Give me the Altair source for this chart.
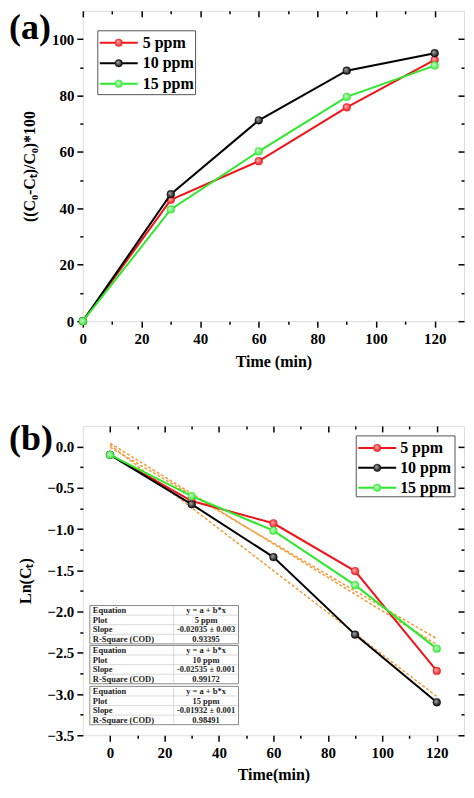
import altair as alt
import pandas as pd

FONT = "Liberation Serif"

# ---------------- data ----------------
times = [0, 30, 60, 90, 120]
series = ["5 ppm", "10 ppm", "15 ppm"]
colors = ["#EE1419", "#000000", "#2EE82E"]
lights = ["#FFB5B5", "#B0B0B0", "#D8FFD8"]

removal_5 = [0, 43.0, 56.7, 75.8, 92.6]
removal_10 = [0, 45.0, 71.2, 88.8, 95.0]
removal_15 = [0, 39.6, 60.2, 79.5, 90.6]

lnc_5 = [-0.10, -0.66, -0.93, -1.51, -2.72]
lnc_10 = [-0.10, -0.70, -1.34, -2.28, -3.10]
lnc_15 = [-0.10, -0.60, -1.02, -1.68, -2.45]

fit_t = [0, 120]
fit_5 = [0.04, -2.40]
fit_10 = [0.02, -3.03]
fit_15 = [-0.01, -2.33]

table_rows = ["Equation", "Plot", "Slope", "R-Square (COD)"]
table_eq = "y = a + b*x"
table_slope = ["-0.02035 ± 0.003", "-0.02535 ± 0.001", "-0.01932 ± 0.001"]
table_r2 = ["0.93395", "0.99172", "0.98491"]

top_x_major = [0, 20, 40, 60, 80, 100, 120]
top_x_minor = [10, 30, 50, 70, 90, 110]
top_y_major = [0, 20, 40, 60, 80, 100]
top_y_minor = [10, 30, 50, 70, 90]
bot_x_major = [0, 20, 40, 60, 80, 100, 120]
bot_x_minor = [10, 30, 50, 70, 90, 110]
bot_y_major = [-3.5, -3.0, -2.5, -2.0, -1.5, -1.0, -0.5, 0.0]
bot_y_minor = [-3.25, -2.75, -2.25, -1.75, -1.25, -0.75, -0.25]

# ------------- frames -------------
def long_df(vals):
    rows = []
    for s, v in zip(series, vals):
        for t, y in zip(times, v):
            rows.append({"t": t, "v": y, "series": s})
    return pd.DataFrame(rows)

df_top = long_df([removal_5, removal_10, removal_15])
df_bot = long_df([lnc_5, lnc_10, lnc_15])
fit_rows = []
for s, f in zip(series, [fit_5, fit_10, fit_15]):
    for t, y in zip(fit_t, f):
        fit_rows.append({"t": t, "v": y, "series": s})
df_fit = pd.DataFrame(fit_rows)
dummy = pd.DataFrame({"a": [0]})


def ball(c, light):
    return alt.RadialGradient(
        gradient="radial",
        stops=[alt.GradientStop(offset=0, color=light), alt.GradientStop(offset=1, color=c)],
        x1=0.35, y1=0.35, r1=0, x2=0.5, y2=0.5, r2=0.55,
    )


def axis_main(orient, values, title, fmt, lab_pad, title_pad):
    return alt.Axis(
        orient=orient, values=values, format=fmt, tickSize=6, tickWidth=1.5, tickColor="black",
        domain=False, grid=False, labelFont=FONT, labelFontWeight="bold", labelFontSize=15,
        labelColor="black", labelPadding=lab_pad, labelFlush=False, labelOverlap=False,
        title=title, titleFont=FONT, titleFontWeight="bold", titleFontSize=16, titleColor="black",
        titlePadding=title_pad,
    )


def axis_plain(orient, values, size, offset=0):
    return alt.Axis(
        orient=orient, values=values, tickSize=size, tickWidth=1.5, tickColor="black",
        domain=False, grid=False, labels=False, title=None, offset=offset,
    )


def panel(df, xs, ys, W, H, xmaj, xmin, ymaj, ymin, yfmt, xtitle, ytitle, ytp, xtp,
          tag, legend_pos, fits=None, tables=None):
    layers = []
    enc_x = lambda ax: alt.X("t:Q", scale=xs, axis=ax)
    enc_y = lambda ax: alt.Y("v:Q", scale=ys, axis=ax)
    base = alt.Chart(df)
    # axis holders
    layers.append(base.mark_point(opacity=0).encode(
        x=enc_x(axis_main("bottom", xmaj, xtitle, "d", 4, xtp)),
        y=enc_y(axis_main("left", ymaj, ytitle, yfmt, 3, ytp))))
    layers.append(base.mark_point(opacity=0).encode(
        x=enc_x(axis_plain("bottom", xmin, 3)), y=enc_y(axis_plain("left", ymin, 3))))
    layers.append(base.mark_point(opacity=0).encode(
        x=enc_x(axis_plain("bottom", xmaj, 6, -H)), y=enc_y(axis_plain("left", ymaj, 6, -W))))
    layers.append(base.mark_point(opacity=0).encode(
        x=enc_x(axis_plain("bottom", xmin, 3, -H)), y=enc_y(axis_plain("left", ymin, 3, -W))))
    # fits
    if fits is not None:
        layers.append(alt.Chart(fits).mark_line(color="#F29B38", strokeWidth=1.5, strokeDash=[3, 2]).encode(
            x=enc_x(None), y=enc_y(None), detail="series:N"))
    # series
    for s, c, l in zip(series, colors, lights):
        sub = base.transform_filter(alt.datum.series == s)
        layers.append(sub.mark_line(color=c, strokeWidth=2).encode(x=enc_x(None), y=enc_y(None)))
        layers.append(sub.mark_point(filled=True, size=60, fill=ball(c, l), stroke=c, strokeWidth=0.5,
                                     opacity=1).encode(x=enc_x(None), y=enc_y(None)))
    # legend
    bx0, bx1, by0, by1, lx0, lx1, tx, ly0, dy = legend_pos
    d = alt.Chart(dummy)
    layers.append(d.mark_rect(fill="white", stroke="#555555", strokeWidth=1).encode(
        x=alt.value(bx0), x2=alt.value(bx1), y=alt.value(by0), y2=alt.value(by1)))
    for i, (s, c, l) in enumerate(zip(series, colors, lights)):
        yy = ly0 + i * dy
        layers.append(d.mark_rule(color=c, strokeWidth=2).encode(
            x=alt.value(lx0), x2=alt.value(lx1), y=alt.value(yy)))
        layers.append(d.mark_point(filled=True, size=55, fill=ball(c, l), stroke=c, strokeWidth=0.5,
                                   opacity=1).encode(x=alt.value((lx0 + lx1) / 2), y=alt.value(yy)))
        layers.append(d.mark_text(font=FONT, fontWeight="bold", fontSize=16, align="left",
                                  baseline="middle", color="black").encode(
            x=alt.value(tx), y=alt.value(yy), text=alt.value(s)))
    # tables
    if tables is not None:
        tx0, tx1, tdiv, rh = 7, 156, 91, tables[1]
        for k, y0 in enumerate(tables[0]):
            layers.append(d.mark_rect(fill="white", stroke="#8A8A8A", strokeWidth=1).encode(
                x=alt.value(tx0), x2=alt.value(tx1), y=alt.value(y0), y2=alt.value(y0 + 4 * rh)))
            for r in range(1, 4):
                layers.append(d.mark_rule(color="#D0D0D0", strokeWidth=0.8).encode(
                    x=alt.value(tx0 + 1), x2=alt.value(tx1 - 1), y=alt.value(y0 + r * rh)))
            layers.append(d.mark_rule(color="#D0D0D0", strokeWidth=0.8).encode(
                x=alt.value(tdiv), y=alt.value(y0 + 1), y2=alt.value(y0 + 4 * rh - 1)))
            right = [table_eq, series[k], table_slope[k], table_r2[k]]
            for r in range(4):
                yy = y0 + rh * (r + 0.5)
                layers.append(d.mark_text(font=FONT, fontWeight="bold", fontSize=8.5, align="left",
                                          baseline="middle", color="#222222").encode(
                    x=alt.value(tx0 + 3), y=alt.value(yy), text=alt.value(table_rows[r])))
                layers.append(d.mark_text(font=FONT, fontWeight="bold", fontSize=8.5, align="center",
                                          baseline="middle", color="#222222").encode(
                    x=alt.value((tdiv + tx1) / 2), y=alt.value(yy), text=alt.value(right[r])))
    # panel tag
    layers.append(d.mark_text(font=FONT, fontWeight="bold", fontSize=36, align="left",
                              baseline="top", color="black").encode(
        x=alt.value(-74), y=alt.value(tag[1]), text=alt.value(tag[0])))
    return alt.layer(*layers).resolve_axis(x="independent", y="independent").properties(width=W, height=H)


W = 382
H1 = 311
H2 = 310
top = panel(
    df_top,
    alt.Scale(domain=[0, 130], nice=False, zero=False),
    alt.Scale(domain=[0, 110], nice=False, zero=False),
    W, H1, top_x_major, top_x_minor, top_y_major, top_y_minor, "d",
    "Time (min)", "((C₀-Cₜ)/C₀)*100", 14, 7, ("(a)", 0),
    (15, 113, 20, 84, 17, 55, 60, 32, 20.5),
)
bottom = panel(
    df_bot,
    alt.Scale(domain=[-10, 130], nice=False, zero=False),
    alt.Scale(domain=[-3.5, 0.25], nice=False, zero=False),
    W, H2, bot_x_major, bot_x_minor, bot_y_major, bot_y_minor, ".1f",
    "Time(min)", "Ln(Cₜ)", 13, 6, ("(b)", -4),
    (274, 373, 10, 71, 276, 314, 318, 22, 20),
    fits=df_fit, tables=([180, 220, 261], 9.6),
)

chart = alt.vconcat(top, bottom, spacing=50).properties(padding=0).configure_view(
    stroke="black", strokeWidth=1.5
).configure(background="white")

chart.save("out.html", embed_options={"renderer": "svg", "actions": False})
